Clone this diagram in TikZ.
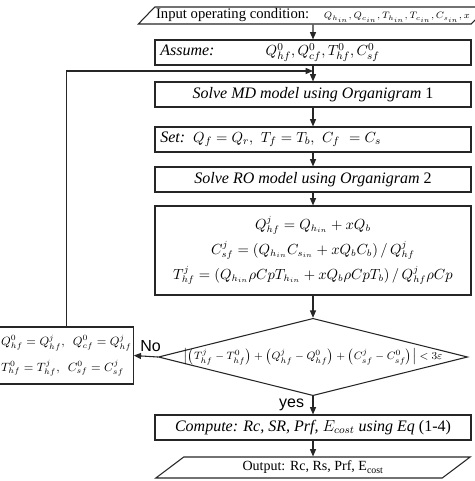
\documentclass[tikz,border=0pt]{standalone}
\usepackage{fontspec}
\setmainfont{Liberation Serif}
\newfontfamily\arialf{Liberation Sans}
\usetikzlibrary{arrows.meta,shapes.geometric}
\tikzset{>={Triangle[length=5.5pt,width=4.5pt]},every node/.style={font=\fontsize{12}{14}\selectfont},
 box/.style={draw=black!85,line width=.8pt,minimum width=237pt,minimum height=18.75pt,inner sep=2pt},
 io/.style={draw=black!85,line width=.8pt,trapezium,trapezium left angle=45,trapezium right angle=135,trapezium stretches=true,minimum width=236pt,minimum height=12.75pt,inner sep=1pt},
 dec/.style={draw=black!85,line width=.8pt,diamond,minimum width=232pt,minimum height=58pt,inner sep=0pt},
 flow/.style={line width=.8pt,draw=black!85,->},lbl/.style={font=\arialf\fontsize{12}{14}\selectfont}}

\begin{document}
\begin{tikzpicture}[x=.75pt,y=-.75pt]
\useasboundingbox (0,0) rectangle (474,481);
\node[io] (inp) at (313,15.5) {\fontsize{11}{12}\selectfont Input operating condition:\quad{\fontsize{7.5}{9}\selectfont$Q_{h_{in}},Q_{c_{in}},T_{h_{in}},T_{c_{in}},C_{s_{in}},x$}};
\node[box,text width=229pt,align=left] (asm) at (313,52.5) {\textit{Assume:}\hspace{3.2em}{\fontsize{11}{13}\selectfont$Q^0_{hf},Q^0_{cf},T^0_{hf},C^0_{sf}$}};
\node[box] (md) at (313,94.5) {\textit{Solve MD model using Organigram} 1};
\node[box,text width=229pt,align=left] (set) at (313,139.5) {\textit{Set:} {\fontsize{11}{13}\selectfont$Q_f=Q_r,\ T_f=T_b,\ C_f\ =C_s$}};
\node[box] (ro) at (313,179.5) {\textit{Solve RO model using Organigram} 2};
\node[box,minimum height=66.75pt,align=center,font=\fontsize{10.5}{12.5}\selectfont] (upd) at (313,250.5) {$Q^j_{hf}=Q_{h_{in}}+xQ_b$\\[4pt]
 $C^j_{sf}=\left(Q_{h_{in}}C_{s_{in}}+xQ_bC_b\right)/\,Q^j_{hf}$\\[4pt]
 $T^j_{hf}=\left(Q_{h_{in}}\rho CpT_{h_{in}}+xQ_b\rho CpT_b\right)/\,Q^j_{hf}\rho Cp$};
\node[dec] (chk) at (313,357) {};
\node (crit) at (chk) {\fontsize{8.5}{10}\selectfont$\left|\left(T^j_{hf}-T^0_{hf}\right)+\left(Q^j_{hf}-Q^0_{hf}\right)+\left(C^j_{sf}-C^0_{sf}\right)\right|<3\varepsilon$};
\node[box,minimum width=95pt,minimum height=42.75pt,inner sep=1pt,align=left,font=\fontsize{9}{11}\selectfont] (fb) at (66.5,355.5) {$Q^0_{hf}=Q^j_{hf},\ \ Q^0_{cf}=Q^j_{hf}$\\[6pt]$T^0_{hf}=T^j_{hf},\ \ C^0_{sf}=C^j_{sf}$};
\node[box] (comp) at (313,427.5) {\textit{Compute: Rc, SR, Prf, $E_{cost}$ using Eq} (1-4)};
\node[io,minimum height=15.75pt] (out) at (313,467.5) {\fontsize{10.5}{12}\selectfont Output: Rc, Rs, Prf, E\textsubscript{cost}};
\coordinate (back) at (313,71);
\draw[flow] (inp)--(asm);\draw[flow] (asm)--(md);\draw[flow] (md)--(set);\draw[flow] (set)--(ro);
\draw[flow] (ro)--(upd);\draw[flow] (upd)--(chk);\draw[flow] (comp)--(out);
\draw[flow] (chk.south)--node[lbl,left=3pt,pos=.45]{yes} (comp);
\draw[flow] (chk.west)--node[lbl,above,pos=.3]{No} (fb.east);
\draw[flow] (fb.north)|-(back);
\end{tikzpicture}
\end{document}
